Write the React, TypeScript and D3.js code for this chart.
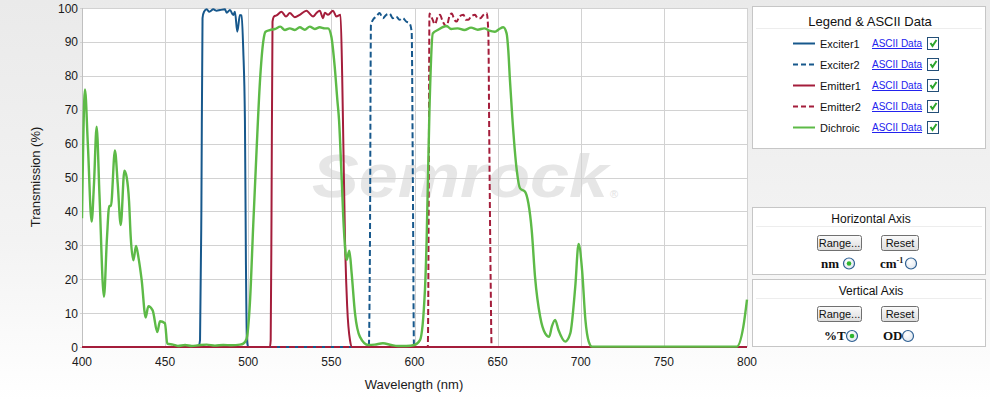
import React from "react";
import * as d3 from "d3";

type P = [number, number];

const exciter1: P[] = [
  [400, 0], [470, 0], [471, 2], [471.8, 40], [472.5, 97], [473.4, 98.9], [475, 99.6], [476.6, 98.9],
  [479, 99.6], [481, 99.2], [483, 99.4], [486, 99.6], [487, 98.6], [489, 99.4], [491, 97.9], [492, 98.9],
  [493.4, 93], [495, 97.9], [496, 97.8], [497, 87.6], [498, 67], [498.6, 25], [499.2, 2], [500, 0], [800, 0],
];

const exciter2: P[] = [
  [400, 0], [572.5, 0], [573.2, 30], [573.8, 95], [575, 96.5], [577, 97.5], [579, 98.5], [581, 97],
  [583, 98], [585, 98.3], [587, 97], [589, 97.5], [591, 96.5], [593, 97], [595, 96], [597, 95.5],
  [598.3, 93], [599, 50], [599.7, 0], [800, 0],
];

const emitter1: P[] = [
  [400, 0], [513, 0], [513.5, 2], [514, 40], [514.6, 96], [515.5, 97.5], [517, 97.8], [520, 98.9],
  [522.7, 97.5], [525, 98.5], [528, 97.3], [531, 98], [535, 99.2], [537, 98.3], [539, 97.5], [541, 98.5],
  [543, 99.2], [545, 97], [546, 98.6], [548, 98], [551, 99.2], [553, 97.5], [555.5, 98], [556.5, 80],
  [557.2, 60], [558.2, 31.6], [559.5, 12], [561.2, 2], [562.5, 0], [800, 0],
];

const emitter2: P[] = [
  [400, 0], [608, 0], [608.6, 50], [609, 98.4], [610.5, 97], [612.3, 95.2], [614, 97.5], [615.3, 98],
  [617, 96], [619.3, 94.6], [621, 97.5], [622.4, 98.4], [624, 96.5], [625.4, 96], [627, 97.5], [629.4, 98],
  [631, 96.5], [632.4, 96.5], [634, 97.5], [636.4, 98], [638, 97], [639.6, 97], [641.5, 98], [643.4, 98.5],
  [644.4, 93], [645, 60], [645.8, 20], [646.4, 0], [800, 0],
];

const dichroic: P[] = [
  [400, 38], [401.8, 76], [403.5, 60], [405.8, 37], [407.2, 48], [408.8, 65], [410.5, 45], [413.2, 14.8],
  [415, 32], [416.4, 41.6], [417.4, 41.6], [419.8, 58], [421.5, 48], [423.3, 36], [425.5, 52], [426.9, 50],
  [428.3, 43], [429.3, 32.5], [430.9, 25.6], [432.5, 29.8], [434.1, 26], [435.9, 19.7], [438.3, 8.7],
  [439.9, 12], [442.5, 10.8], [445.3, 4.4], [446.9, 7.6], [449.9, 7], [451.3, 1], [454.7, 0.7], [457.7, 0.3],
  [462, 0.6], [466, 0.3], [470, 0.5], [475, 0.7], [480, 0.4], [485, 0.6], [490, 0.5], [495, 0.7], [497, 1],
  [499, 2.5], [501, 13], [503, 36], [505, 58], [507, 78], [509, 90], [510.4, 93], [513, 93.5], [516, 93.8],
  [519.3, 94.5], [522, 93.5], [525, 94], [528, 93.5], [531, 94.3], [534, 93.6], [537, 94.5], [540, 93.8],
  [543, 94.3], [546, 94], [548, 94], [550, 91.5], [552, 82.7], [553.6, 72.8], [554.6, 67], [556, 52],
  [557.5, 35], [559.2, 25.7], [560.8, 28.4], [562.2, 21.7], [564.2, 10], [567.2, 3], [572.2, 0.6], [576, 0.7],
  [581, 1.1], [586, 0.6], [590, 0.3], [595, 0.3], [600, 0.6], [603.3, 2], [606.3, 17], [607.3, 31.5],
  [609, 70], [611, 92.5], [614, 93.5], [619.3, 94.7], [622, 93.8], [626, 94], [630, 93.5], [634, 94.2],
  [638, 93.6], [642, 94], [645, 93.3], [648.4, 93], [651, 93.8], [653.4, 94.3], [655.4, 92.5], [656.4, 87.6],
  [657.4, 78.8], [658.8, 68], [661.5, 52.2], [663.5, 46.8], [666.5, 45.8], [668.5, 42.4], [670.5, 34.5],
  [672.5, 20.7], [675.6, 8.9], [678.6, 4], [681, 3], [682.6, 6], [684.6, 8], [686.6, 5], [690.7, 1.6],
  [693.7, 4], [696.7, 17.8], [698.7, 30.4], [700.8, 22.7], [702.8, 8], [704.8, 1.6], [706.8, 0.1],
  [793.8, 0.1], [797.8, 6], [800, 14],
];

const xTicks = [400, 450, 500, 550, 600, 650, 700, 750, 800];
const yTicks = [0, 10, 20, 30, 40, 50, 60, 70, 80, 90, 100];

const BLUE = "#17588c";
const RED = "#a41d3b";
const GREEN = "#5dba47";

const seriesList = [
  { name: "Exciter1", data: exciter1, color: BLUE, dash: "", w: 2 },
  { name: "Exciter2", data: exciter2, color: BLUE, dash: "6,3", w: 2 },
  { name: "Emitter1", data: emitter1, color: RED, dash: "", w: 2 },
  { name: "Emitter2", data: emitter2, color: RED, dash: "6,3", w: 2 },
  { name: "Dichroic", data: dichroic, color: GREEN, dash: "", w: 2.4 },
];

const FONT = "'Liberation Sans', Arial, sans-serif";
const SERIF = "'Liberation Serif', 'Times New Roman', serif";

function Button({ x, y, w, label }: { x: number; y: number; w: number; label: string }) {
  return (
    <g>
      <rect x={x + 0.5} y={y + 0.5} width={w} height={15} rx={2} fill="url(#btnGrad)" stroke="#707070" />
      <text x={x + w / 2 + 0.5} y={y + 12} fontSize={11} textAnchor="middle" fill="#111" fontFamily={FONT}>
        {label}
      </text>
    </g>
  );
}

function Radio({ cx, cy, on }: { cx: number; cy: number; on: boolean }) {
  return (
    <g>
      <circle cx={cx} cy={cy} r={5.5} fill="url(#radGrad)" stroke="#2d5f92" strokeWidth={1.2} />
      {on && <circle cx={cx} cy={cy} r={2.3} fill="#2fb52f" />}
    </g>
  );
}

export default function App() {
  const left = 82, right = 747, top = 8, bottom = 347;
  const x = d3.scaleLinear().domain([400, 800]).range([left, right]);
  const y = d3.scaleLinear().domain([0, 100]).range([bottom, top]);
  const line = d3
    .line<P>()
    .x((d) => x(d[0]))
    .y((d) => y(d[1]))
    .curve(d3.curveMonotoneX);

  const legendRows = [43.5, 64.5, 85.5, 106.5, 127.5];

  return (
    <div style={{ position: "absolute", left: 0, top: 0 }}>
      <svg width={990} height={400} style={{ display: "block" }} fontFamily={FONT}>
        <defs>
          <linearGradient id="bgGrad" x1="0" y1="0" x2="0" y2="1">
            <stop offset="0" stopColor="#eaeaea" />
            <stop offset="0.6" stopColor="#f3f3f3" />
            <stop offset="1" stopColor="#ffffff" />
          </linearGradient>
          <linearGradient id="btnGrad" x1="0" y1="0" x2="0" y2="1">
            <stop offset="0" stopColor="#fbfbfb" />
            <stop offset="1" stopColor="#dcdcdc" />
          </linearGradient>
          <radialGradient id="radGrad" cx="0.4" cy="0.35" r="0.7">
            <stop offset="0" stopColor="#ffffff" />
            <stop offset="1" stopColor="#dfe6ee" />
          </radialGradient>
          <linearGradient id="rainbow" x1="0" y1="0" x2="1" y2="0">
            <stop offset="0" stopColor="#dde0f5" stopOpacity="0" />
            <stop offset="0.2" stopColor="#d8dcf8" />
            <stop offset="0.4" stopColor="#d8f4f8" />
            <stop offset="0.6" stopColor="#f8f6d6" />
            <stop offset="0.8" stopColor="#fbe0d8" />
            <stop offset="1" stopColor="#fbdede" />
          </linearGradient>
          <clipPath id="plotClip">
            <rect x={left} y={top - 3} width={right - left + 2} height={bottom - top + 6} />
          </clipPath>
        </defs>
        <rect x={0} y={0} width={990} height={400} fill="url(#bgGrad)" />
        <rect x={left} y={top} width={right - left} height={bottom - top} fill="#ffffff" />

        {/* watermark */}
        <g>
          {[0, 1, 2, 3].map((i) => (
            <line key={i} x1={360 + i * 4} x2={578 - i * 2} y1={157 + i * 2.6} y2={157 + i * 2.6}
              stroke="url(#rainbow)" strokeWidth={1.4} />
          ))}
          <text x={312} y={197} fontSize={62} fontStyle="italic" fontWeight={900} fill="#e6e6e6"
            textLength={296} lengthAdjust="spacingAndGlyphs">Semrock</text>
          <text x={610} y={198} fontSize={11} fill="#e2e2e2">®</text>
        </g>

        {/* grid */}
        {yTicks.map((t) => (
          <line key={"gy" + t} x1={left - 2} x2={right} y1={Math.round(y(t)) + 0.5} y2={Math.round(y(t)) + 0.5}
            stroke="#d2d2d2" strokeWidth={1} />
        ))}
        {xTicks.map((t) => (
          <line key={"gx" + t} x1={Math.round(x(t)) + 0.5} x2={Math.round(x(t)) + 0.5} y1={top} y2={bottom}
            stroke="#d2d2d2" strokeWidth={1} />
        ))}
        <line x1={left + 0.5} x2={left + 0.5} y1={top} y2={bottom} stroke="#c0c0c0" />

        {/* series */}
        <g clipPath="url(#plotClip)">
          {seriesList.map((s) => (
            <path key={s.name} d={line(s.data) || ""} fill="none" stroke={s.color} strokeWidth={s.w}
              strokeDasharray={s.dash || undefined} strokeLinejoin="round" />
          ))}
        </g>

        {/* axis labels */}
        {yTicks.map((t) => (
          <text key={"ty" + t} x={78} y={y(t) + 4.5} fontSize={12} textAnchor="end" fill="#1a1a1a">{t}</text>
        ))}
        {xTicks.map((t) => (
          <text key={"tx" + t} x={x(t)} y={366} fontSize={12} textAnchor="middle" fill="#1a1a1a">{t}</text>
        ))}
        <text x={414} y={389} fontSize={13} textAnchor="middle" fill="#1a1a1a">Wavelength (nm)</text>
        <text transform="translate(40,177) rotate(-90)" fontSize={13} textAnchor="middle" fill="#1a1a1a">
          Transmission (%)
        </text>

        {/* legend panel */}
        <rect x={752.5} y={6.5} width={233} height={142} fill="#ffffff" stroke="#c6c6c6" />
        <line x1={756} x2={982} y1={28.5} y2={28.5} stroke="#ededed" />
        <text x={870} y={25.5} fontSize={13} textAnchor="middle" fill="#111">Legend &amp; ASCII Data</text>
        {seriesList.map((s, i) => {
          const cy = legendRows[i];
          return (
            <g key={"lg" + s.name}>
              <line x1={793} x2={815} y1={cy} y2={cy} stroke={s.color} strokeWidth={2}
                strokeDasharray={s.dash ? "5,3" : undefined} />
              <text x={820} y={cy + 4} fontSize={11} fill="#111">{s.name}</text>
              <text x={872} y={cy + 3.5} fontSize={10} fill="#2222ee" textDecoration="underline">ASCII Data</text>
              <rect x={927.5} y={cy - 6} width={11} height={12} fill="#ffffff" stroke="#234f78" strokeWidth={1} />
              <path d={`M${930.5},${cy - 0.5} L${932.5},${cy + 2.5} L${936.5},${cy - 3.5}`} fill="none"
                stroke="#2ca52c" strokeWidth={2} />
            </g>
          );
        })}

        {/* horizontal axis panel */}
        <rect x={752.5} y={207.5} width={233} height={67} fill="#ffffff" stroke="#c6c6c6" />
        <line x1={756} x2={982} y1={226.5} y2={226.5} stroke="#ededed" />
        <text x={871} y={223} fontSize={12} textAnchor="middle" fill="#111">Horizontal Axis</text>
        <Button x={817} y={235} w={44} label="Range..." />
        <Button x={881} y={235} w={37} label="Reset" />
        <text x={821} y={268} fontSize={13} fontWeight="bold" fontFamily={SERIF} fill="#111">nm</text>
        <Radio cx={849} cy={263.5} on={true} />
        <text x={880} y={268} fontSize={13} fontWeight="bold" fontFamily={SERIF} fill="#111">
          cm<tspan fontSize={8} dy={-5}>-1</tspan>
        </text>
        <Radio cx={911} cy={263.5} on={false} />

        {/* vertical axis panel */}
        <rect x={752.5} y={279.5} width={233} height={67} fill="#ffffff" stroke="#c6c6c6" />
        <line x1={756} x2={982} y1={298.5} y2={298.5} stroke="#ededed" />
        <text x={871} y={295} fontSize={12} textAnchor="middle" fill="#111">Vertical  Axis</text>
        <Button x={817} y={306} w={44} label="Range..." />
        <Button x={881} y={306} w={37} label="Reset" />
        <text x={824} y={340} fontSize={13} fontWeight="bold" fontFamily={SERIF} fill="#111">%T</text>
        <Radio cx={852} cy={336} on={true} />
        <text x={883} y={340} fontSize={13} fontWeight="bold" fontFamily={SERIF} fill="#111">OD</text>
        <Radio cx={908} cy={336} on={false} />
      </svg>
    </div>
  );
}
